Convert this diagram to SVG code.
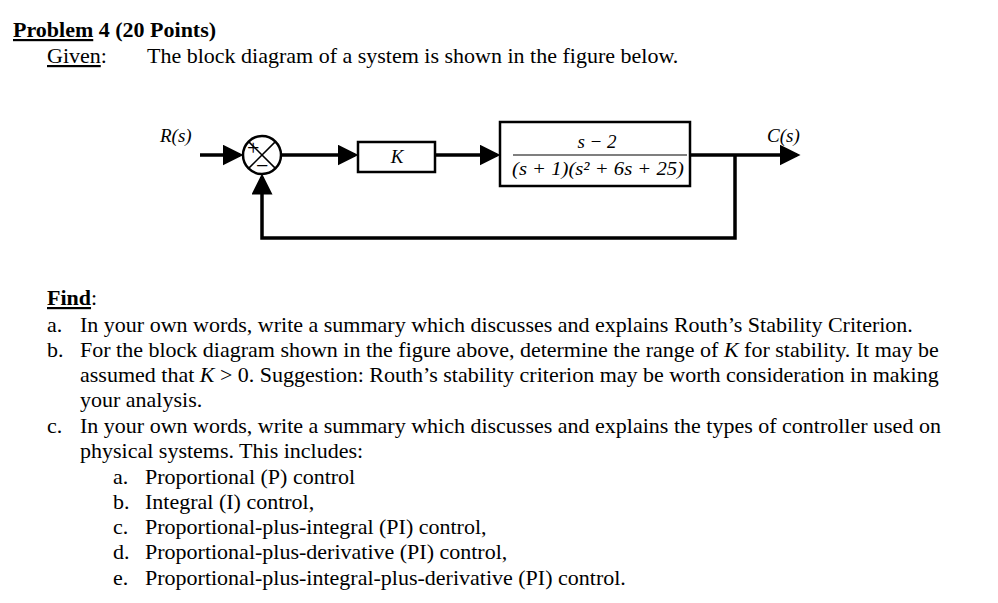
<svg xmlns="http://www.w3.org/2000/svg" width="998" height="603" viewBox="0 0 998 603">
<style>
text{font-family:"Liberation Serif","Times New Roman",serif;font-size:22px;fill:#000}
.m{font-family:"Liberation Serif",serif;font-style:italic;font-size:19px}
.w{stroke:#000;stroke-width:3.5;fill:none}
.b{stroke:#000;stroke-width:2.5;fill:#fff}
</style>
<defs><marker id="a" markerWidth="6" markerHeight="6" refX="5" refY="3" orient="auto" markerUnits="strokeWidth"><path d="M0,0 L6,3 L0,6z" fill="#000"/></marker></defs>
<rect width="998" height="603" fill="#fff"/>
<text x="13" y="37"><tspan font-weight="bold" text-decoration="underline">Problem</tspan><tspan font-weight="bold"> 4 (20 Points)</tspan></text>
<text x="47" y="63"><tspan text-decoration="underline">Given</tspan>:</text>
<text x="147" y="63">The block diagram of a system is shown in the figure below.</text>
<g id="connectors">
<path class="w" d="M200,155 H240" marker-end="url(#a)"/>
<path class="w" d="M281,155 H355" marker-end="url(#a)"/>
<path class="w" d="M435,155 H497" marker-end="url(#a)"/>
<path class="w" d="M690,155 H797" marker-end="url(#a)"/>
<path class="w" d="M735,155 V238 H262 V177" marker-end="url(#a)"/>
</g>
<g id="sum"><circle class="b" cx="262" cy="155" r="19"/><path d="M248.6,141.6 L275.4,168.4 M275.4,141.6 L248.6,168.4" stroke="#000" stroke-width="1.5"/>
<text x="247" y="155" font-size="13">+</text><text x="256" y="173" font-size="15">−</text></g>
<g id="K"><rect class="b" x="358" y="142" width="77" height="30"/><text class="m" x="397" y="163" text-anchor="middle">K</text></g>
<g id="G"><rect class="b" x="500" y="122" width="190" height="64"/><line x1="513" y1="155" x2="687" y2="155" stroke="#000" stroke-width="1.2"/>
<text class="m" x="597" y="148" text-anchor="middle">s − 2</text>
<text class="m" x="598" y="175" text-anchor="middle" textLength="172" lengthAdjust="spacingAndGlyphs">(s + 1)(s² + 6s + 25)</text></g>
<text class="m" x="160" y="142" font-size="21">R(s)</text>
<text class="m" x="767" y="142" font-size="21">C(s)</text>
<text x="47" y="305"><tspan font-weight="bold" text-decoration="underline">Find</tspan>:</text>
<text x="47" y="332">a.</text><text x="80" y="332">In your own words, write a summary which discusses and explains Routh’s Stability Criterion.</text>
<text x="47" y="357">b.</text><text x="80" y="357">For the block diagram shown in the figure above, determine the range of <tspan font-style="italic">K</tspan> for stability.  It may be</text>
<text x="80" y="382">assumed that <tspan font-style="italic">K</tspan> &gt; 0.  Suggestion: Routh’s stability criterion may be worth consideration in making</text>
<text x="80" y="407">your analysis.</text>
<text x="47" y="433">c.</text><text x="80" y="433">In your own words, write a summary which discusses and explains the types of controller used on</text>
<text x="80" y="458">physical systems.  This includes:</text>
<text x="113" y="484">a.</text><text x="145" y="484">Proportional (P) control</text>
<text x="113" y="509">b.</text><text x="145" y="509">Integral (I) control,</text>
<text x="113" y="534">c.</text><text x="145" y="534">Proportional-plus-integral (PI) control,</text>
<text x="113" y="559">d.</text><text x="145" y="559">Proportional-plus-derivative (PI) control,</text>
<text x="113" y="585">e.</text><text x="145" y="585">Proportional-plus-integral-plus-derivative (PI) control.</text>
</svg>
